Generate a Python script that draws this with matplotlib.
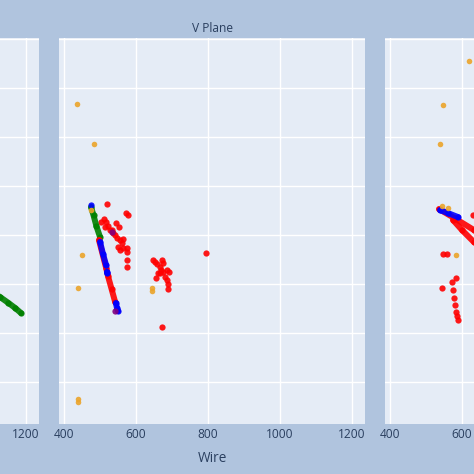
import matplotlib
matplotlib.use("Agg")
import matplotlib.pyplot as plt

plt.rcParams['font.family'] = ['Open Sans', 'DejaVu Sans']

BG = '#b0c4de'
PLOT_BG = '#e5ecf6'
TXT = '#2a3f5f'
ORANGE = '#eba42a'

x_ticks = [400, 600, 800, 1000, 1200]
x_tick_labels = ['400', '600', '800', '1000', '1200']
x_range = (386, 1236)
y_range = (72, 4010)
y_ticks = [500, 1000, 1500, 2000, 2500, 3000, 3500, 4000]
title_mid = "V Plane"
x_label = "Wire"

# ---- left panel (mostly cropped) ----
u_green_track_w = [1115, 1128, 1150, 1170, 1186]
u_green_track_t = [1400, 1367, 1310, 1255, 1204]

# ---- middle panel (V plane) ----
v_orange_w = [436, 483, 450, 439, 439, 439, 475, 644, 644]
v_orange_t = [3336, 2928, 1796, 1459, 327, 296, 2255, 1459, 1429]

v_green_track_w = [475, 482, 490, 500]
v_green_track_t = [2285, 2200, 2090, 1979]
v_blue_track1_w = [500, 508, 517]
v_blue_track1_t = [1930, 1810, 1690]
v_blue_track2_w = [519, 520]
v_blue_track2_t = [1625, 1610]
v_red_track_w = [497, 517, 522, 532, 542]
v_red_track_t = [1949, 1663, 1582, 1450, 1316]
v_blue_track3_w = [544, 547, 550]
v_blue_track3_t = [1306, 1255, 1225]
v_blue_top_w = [475]
v_blue_top_t = [2306]
v_purple_w = [542, 533]
v_purple_t = [1225, 2030]

v_red_hits_w = [519, 503, 511, 517, 514, 528, 536, 544, 553, 572, 578, 547, 556,
                561, 564, 550, 564, 575, 575, 575, 575, 556, 522, 533, 542,
                647, 653, 658, 667, 672, 675, 686, 692, 675, 667, 656, 681,
                686, 689, 689, 661, 669, 672, 794]
v_red_hits_t = [2316, 2132, 2163, 2132, 2081, 2051, 2020, 2122, 2081, 2224, 2204,
                1969, 1949, 1918, 1959, 1877, 1867, 1867, 1826, 1745, 1673, 1847,
                2092, 2051, 2000,
                1745, 1724, 1704, 1673, 1745, 1714, 1643, 1622, 1622, 1612, 1561,
                1571, 1541, 1500, 1449, 1612, 1643, 1061, 1816]

# ---- right panel (mostly cropped) ----
w_orange_w = [619, 547, 539, 544, 561, 583]
w_orange_t = [3775, 3326, 2928, 2296, 2275, 1796]
w_red_band1_w = [536, 580, 633, 660]
w_red_band1_t = [2265, 2170, 2051, 1990]
w_red_band2_w = [575, 600, 633, 660]
w_red_band2_t = [2153, 2050, 1928, 1870]
w_blue_track_w = [539, 560, 589]
w_blue_track_t = [2255, 2225, 2183]
w_red_hits_w = [631, 547, 558, 544, 583, 572, 575, 578, 581, 583, 589, 586]
w_red_hits_t = [2204, 1806, 1806, 1459, 1561, 1520, 1439, 1357, 1286, 1214, 1133, 1173]

W, H = 474, 474
fig = plt.figure(figsize=(W / 100, H / 100), dpi=100, facecolor=BG)

ax_w = 306 / W
ax_h = 386 / H
ax_b = (H - 424) / H
lefts = [-267 / W, 59 / W, 385 / W]
axes = [fig.add_axes([l, ax_b, ax_w, ax_h]) for l in lefts]

# labels that fall inside the visible window for each panel
visible = [[False, False, False, False, True],
           [True, True, True, True, True],
           [True, True, False, False, False]]

for ax, vis in zip(axes, visible):
    ax.set_facecolor(PLOT_BG)
    ax.set_xlim(*x_range)
    ax.set_ylim(*y_range)
    ax.set_xticks(x_ticks)
    ax.set_xticklabels([lab if v else '' for lab, v in zip(x_tick_labels, vis)])
    ax.set_yticks(y_ticks)
    ax.set_yticklabels([])
    ax.grid(True, color='white', linewidth=1.0)
    ax.set_axisbelow(True)
    for s in ax.spines.values():
        s.set_visible(False)
    ax.tick_params(length=0, colors=TXT, labelsize=8.64, pad=3)

MS = 4.5
LW = 4.3
A = 0.9

def track(ax, x, y, c):
    ax.plot(x, y, '-', color=c, lw=LW, solid_capstyle='round', alpha=A, zorder=3)
    ax.plot(x, y, 'o', color=c, ms=MS, mew=0, alpha=A, zorder=3)

def hits(ax, x, y, c, z=3, ms=MS):
    ax.plot(x, y, 'o', color=c, ms=ms, mew=0, alpha=A, zorder=z, linestyle='none')

# left
track(axes[0], u_green_track_w, u_green_track_t, 'green')

# middle
ax = axes[1]
hits(ax, v_red_hits_w, v_red_hits_t, 'red')
track(ax, v_green_track_w, v_green_track_t, 'green')
track(ax, v_red_track_w, v_red_track_t, 'red')
track(ax, v_blue_track1_w, v_blue_track1_t, 'blue')
track(ax, v_blue_track2_w, v_blue_track2_t, 'blue')
track(ax, v_blue_track3_w, v_blue_track3_t, 'blue')
hits(ax, v_blue_top_w, v_blue_top_t, 'blue')
hits(ax, v_purple_w, v_purple_t, 'purple', z=4)
hits(ax, v_orange_w, v_orange_t, ORANGE, z=5, ms=4.0)

# right
ax = axes[2]
track(ax, w_red_band1_w, w_red_band1_t, 'red')
track(ax, w_red_band2_w, w_red_band2_t, 'red')
track(ax, w_blue_track_w, w_blue_track_t, 'blue')
hits(ax, w_red_hits_w, w_red_hits_t, 'red')
hits(ax, w_orange_w, w_orange_t, ORANGE, z=5, ms=4.0)

mid_x = (59 + 365) / 2 / W
fig.text(mid_x, 1 - 29 / H, title_mid, ha='center', va='center', color=TXT, fontsize=8.64)
fig.text(mid_x, 1 - 459 / H, x_label, ha='center', va='center', color=TXT, fontsize=9.8)

fig.savefig('out.png', dpi=100, facecolor=BG)
